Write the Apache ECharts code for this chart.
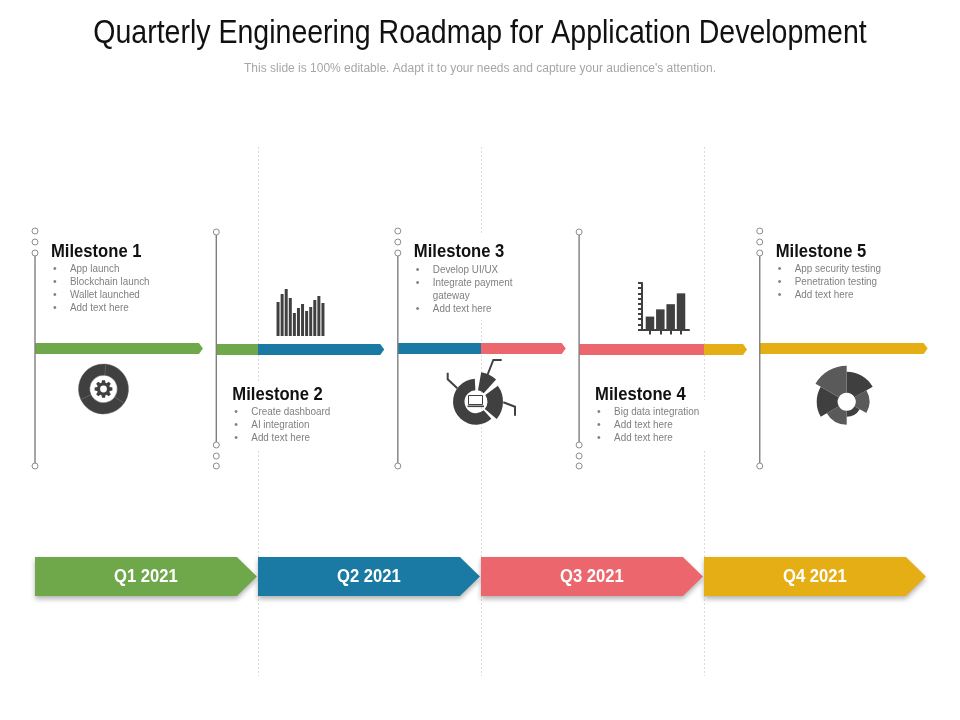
<!DOCTYPE html>
<html>
<head>
<meta charset="utf-8">
<title>Quarterly Engineering Roadmap</title>
<style>html,body{margin:0;padding:0;background:#fff}#main{width:960px;height:720px}</style>
<script src="https://cdn.jsdelivr.net/npm/echarts@6/dist/echarts.min.js"></script>
</head>
<body>
<div id="main"></div>
<script>
var titleText = 'Quarterly Engineering Roadmap for Application Development';
var subtitleText = "This slide is 100% editable. Adapt it to your needs and capture your audience's attention.";

var quarters = ['Q1 2021', 'Q2 2021', 'Q3 2021', 'Q4 2021'];
var quarterColors = ['#6fa84a', '#1a7aa3', '#ec666e', '#e5ae15'];

// where each milestone starts on the timeline, in quarters since Q1
var milestoneStarts = [0, 0.813, 1.627, 2.44, 3.25];
var milestoneLength = 0.753;
var milestoneNames = ['Milestone 1', 'Milestone 2', 'Milestone 3', 'Milestone 4', 'Milestone 5'];
var milestoneItems = [
    ['App launch', 'Blockchain launch', 'Wallet launched', 'Add text here'],
    ['Create dashboard', 'AI integration', 'Add text here'],
    ['Develop UI/UX', 'Integrate payment\ngateway', 'Add text here'],
    ['Big data integration', 'Add text here', 'Add text here'],
    ['App security testing', 'Penetration testing', 'Add text here']
];

// icon charts
var spikeValues = [34, 42, 47, 38, 23, 28, 32, 25, 29, 36, 40, 33];
var spikeCategories = spikeValues.map(function (v, i) { return i; });
var growthX = [1, 2, 3, 4];
var growthValues = [12.5, 19.5, 24.5, 35];
var puzzleSlices = [1, 1, 1];
var roseValues = [21, 13.7, 6, 14, 21, 27];
var roseColors = ['#3f3f3f', '#5a5a5a', '#3f3f3f', '#5a5a5a', '#3f3f3f', '#5a5a5a'];
var donutStarts = [93, 48, -40];
var donutSpans = [219, 32, 76];
var donutOuter = [23, 30, 27];

var SANS = '"Liberation Sans",sans-serif';
var DARK = '#404040';

var segments = [];
milestoneStarts.forEach(function (start, m) {
    var end = start + milestoneLength;
    var from = start;
    while (from < end - 0.001) {
        var q = Math.min(Math.floor(from + 0.001), 3);
        var to = q === 3 ? end : Math.min(q + 1, end);
        segments.push([from, to, q, m, to === end ? 1 : 0]);
        from = to;
    }
});

// no narrow font here, so the slide's narrow text is squeezed horizontally
function squeezed(x, y, text, font, fill, scale, align, extra) {
    var style = { text: text, font: font, fill: fill, textAlign: align || 'left', textVerticalAlign: 'middle' };
    for (var k in extra) { style[k] = extra[k]; }
    return { type: 'text', x: x, y: y, scaleX: scale, style: style };
}

function quarterItem(params, api) {
    var i = api.value(0);
    var left = api.coord([i, 557])[0];
    var right = api.coord([i + 0.995, 557])[0];
    var top = api.coord([i, 557])[1];
    var bottom = api.coord([i, 596])[1];
    var mid = (top + bottom) / 2;
    return {
        type: 'group',
        children: [{
            type: 'polygon',
            shape: { points: [[left, top], [right - 20, top], [right, mid], [right - 20, bottom], [left, bottom]] },
            style: { fill: quarterColors[i], shadowBlur: 5, shadowOffsetY: 3, shadowColor: 'rgba(0,0,0,0.3)' }
        }, squeezed((left + right - 20) / 2 + 10, mid, quarters[i], 'bold 19px ' + SANS, '#fff', 0.875, 'center', {
            shadowBlur: 2, shadowOffsetX: 1, shadowOffsetY: 1, shadowColor: 'rgba(0,0,0,0.55)'
        })]
    };
}

function segmentItem(params, api) {
    var m = api.value(3);
    var y0 = m % 2 ? 344 : 343;
    var left = api.coord([api.value(0), y0]);
    var right = api.coord([api.value(1), y0 + 11]);
    var mid = (left[1] + right[1]) / 2;
    var pts = [[left[0], left[1]], [right[0], left[1]], [right[0], right[1]], [left[0], right[1]]];
    if (api.value(4)) {
        pts = [[left[0], left[1]], [right[0] - 4, left[1]], [right[0], mid], [right[0] - 4, right[1]], [left[0], right[1]]];
    }
    return { type: 'polygon', shape: { points: pts }, style: { fill: quarterColors[api.value(2)] } };
}

function stemItem(params, api) {
    var m = api.value(0);
    var x = api.coord([milestoneStarts[m], 300])[0];
    var ys = m % 2 ? [232, 445, 456, 466] : [231, 242, 253, 466];
    var lineFrom = m % 2 ? ys[0] : ys[2];
    var lineTo = m % 2 ? ys[1] : ys[3];
    var children = [{
        type: 'line',
        shape: { x1: x, y1: api.coord([0, lineFrom])[1], x2: x, y2: api.coord([0, lineTo])[1] },
        style: { stroke: '#7f7f7f', lineWidth: 1.4 }
    }];
    ys.forEach(function (y) {
        children.push({
            type: 'circle',
            shape: { cx: x, cy: api.coord([0, y])[1], r: 3 },
            style: { fill: '#fff', stroke: '#808080', lineWidth: 0.9 }
        });
    });
    return { type: 'group', children: children };
}

// text blocks sit on a white box, it hides the dashed quarter line behind them
function textItem(params, api) {
    var m = api.value(0);
    var x = api.coord([milestoneStarts[m], 300])[0];
    var headY = m % 2 ? 395 : 252;
    var itemY = m % 2 ? 412.5 : (m === 2 ? 270.5 : 269.5);
    var boxTop = m === 3 ? 400 : (m === 1 ? 383 : 234);
    var boxHeight = m % 2 ? 450 - boxTop : 86;
    var children = [{
        type: 'rect',
        shape: { x: x + 13, y: boxTop, width: m === 3 ? 114 : 108, height: boxHeight },
        style: { fill: '#fff' }
    }, squeezed(x + 16, headY, milestoneNames[m], 'bold 19px ' + SANS, '#111', 0.875)];
    milestoneItems[m].forEach(function (item) {
        children.push(squeezed(x + 18, itemY, '•', '10.5px ' + SANS, '#7f7f7f', 1));
        item.split('\n').forEach(function (line) {
            children.push(squeezed(x + 35, itemY, line, '10.5px ' + SANS, '#7f7f7f', 0.94));
            itemY += 13;
        });
    });
    return { type: 'group', children: children };
}

// small gear in the hole of the first icon
function gearItem(params, api) {
    var cx = 103.5, cy = 389, pts = [];
    for (var i = 0; i < 8; i++) {
        var a = i * Math.PI / 4;
        [[-0.3, 6.6], [-0.17, 9], [0.17, 9], [0.3, 6.6]].forEach(function (p) {
            pts.push([cx + p[1] * Math.cos(a + p[0]), cy + p[1] * Math.sin(a + p[0])]);
        });
    }
    return {
        type: 'group',
        children: [
            { type: 'polygon', shape: { points: pts }, style: { fill: DARK } },
            { type: 'circle', shape: { cx: cx, cy: cy, r: 3.4 }, style: { fill: '#fff' } }
        ]
    };
}

// leader lines and the little laptop of the third icon
function laptopItem(params, api) {
    var lines = [
        [[501.7, 360], [493.3, 360], [486.7, 377]],
        [[447.7, 372.7], [447.7, 379.3], [457.3, 388.3]],
        [[503.3, 402.3], [515, 406.7], [515, 415.7]]
    ];
    var children = lines.map(function (pts) {
        return { type: 'polyline', shape: { points: pts }, style: { fill: null, stroke: DARK, lineWidth: 2 } };
    });
    children.push({
        type: 'rect', shape: { x: 468.5, y: 395.5, width: 14, height: 9 },
        style: { fill: '#fff', stroke: DARK, lineWidth: 1 }
    });
    children.push({
        type: 'rect', shape: { x: 467.5, y: 405.5, width: 16.5, height: 1.6 },
        style: { fill: DARK }
    });
    return { type: 'group', children: children };
}

var series = [{
    type: 'custom', renderItem: textItem, data: milestoneNames.map(function (n, i) { return [i]; }),
    xAxisIndex: 0, yAxisIndex: 0, z: 2, silent: true
}, {
    type: 'custom', renderItem: segmentItem, data: segments,
    xAxisIndex: 0, yAxisIndex: 0, z: 3, silent: true
}, {
    type: 'custom', renderItem: stemItem, data: milestoneNames.map(function (n, i) { return [i]; }),
    xAxisIndex: 0, yAxisIndex: 0, z: 4, silent: true
}, {
    type: 'custom', renderItem: quarterItem, data: quarters.map(function (n, i) { return [i]; }),
    xAxisIndex: 0, yAxisIndex: 0, z: 5, silent: true
}, {
    type: 'bar', xAxisIndex: 1, yAxisIndex: 1, data: spikeValues, barWidth: 3,
    itemStyle: { color: DARK }, silent: true, z: 5
}, {
    type: 'bar', xAxisIndex: 2, yAxisIndex: 2,
    data: growthX.map(function (x, i) { return [x, growthValues[i]]; }), barWidth: 8.5,
    itemStyle: { color: DARK }, silent: true, z: 5
}, {
    type: 'pie', center: [103.5, 389], radius: [13.8, 25], startAngle: 85, data: puzzleSlices,
    label: { show: false }, labelLine: { show: false }, silent: true, z: 5,
    itemStyle: { color: DARK, borderColor: '#5c5c5c', borderWidth: 0.5 }
}, {
    type: 'custom', coordinateSystem: 'none', renderItem: gearItem, data: [[0]], silent: true, z: 6
}, {
    type: 'pie', center: [846.7, 401.7], radius: [9, 36], roseType: 'area', startAngle: 90,
    data: roseValues.map(function (v, i) { return { value: v, itemStyle: { color: roseColors[i] } }; }),
    label: { show: false }, labelLine: { show: false }, silent: true, z: 5
}, {
    type: 'custom', coordinateSystem: 'none', renderItem: laptopItem, data: [[0]], silent: true, z: 6
}];

donutSpans.forEach(function (span, i) {
    series.push({
        type: 'pie', center: [476, 401.7], radius: [11.5, donutOuter[i]], startAngle: donutStarts[i], clockwise: false,
        data: [
            { value: span, itemStyle: { color: DARK } },
            { value: 360 - span, itemStyle: { color: 'transparent' } }
        ],
        label: { show: false }, labelLine: { show: false }, silent: true, z: 5
    });
});

var chart = echarts.init(document.getElementById('main'));
chart.setOption({
    animation: false,
    backgroundColor: '#fff',
    graphic: [{
        type: 'text', x: 480, y: 33.5, scaleX: 0.864,
        style: {
            text: titleText, font: '33px ' + SANS, fill: '#111',
            textAlign: 'center', textVerticalAlign: 'middle'
        }
    }, {
        type: 'text', x: 480, y: 68.5,
        style: {
            text: subtitleText, font: '12px ' + SANS, fill: '#a6a6a6',
            textAlign: 'center', textVerticalAlign: 'middle'
        }
    }],
    grid: [
        { left: 35, width: 892, top: 147, height: 529 },
        { left: 276, width: 49, top: 289, height: 47 },
        { left: 642, width: 47, top: 283, height: 46.5 }
    ],
    xAxis: [{
        type: 'value', gridIndex: 0, min: 0, max: 4, interval: 1,
        axisLine: { show: false }, axisTick: { show: false }, axisLabel: { show: false },
        splitLine: { show: true, showMinLine: false, showMaxLine: false, lineStyle: { color: '#dcdcdc', type: [2, 2], width: 1 } }
    }, {
        type: 'category', gridIndex: 1, data: spikeCategories, show: false
    }, {
        type: 'value', gridIndex: 2, min: 0.23, max: 4.77,
        axisLine: { show: true, onZero: false, lineStyle: { color: DARK, width: 2 } },
        axisTick: { show: true, customValues: growthX, length: 5, lineStyle: { color: DARK, width: 2 } },
        axisLabel: { show: false }, splitLine: { show: false }
    }],
    yAxis: [{
        type: 'value', gridIndex: 0, min: 147, max: 676, inverse: true, show: false
    }, {
        type: 'value', gridIndex: 1, min: 0, max: 47, show: false
    }, {
        type: 'value', gridIndex: 2, min: 0, max: 45, interval: 5,
        axisLine: { show: true, lineStyle: { color: DARK, width: 2 } },
        axisTick: { show: true, length: 4, lineStyle: { color: DARK, width: 2 } },
        axisLabel: { show: false }, splitLine: { show: false }
    }],
    series: series
});
</script>
</body>
</html>
